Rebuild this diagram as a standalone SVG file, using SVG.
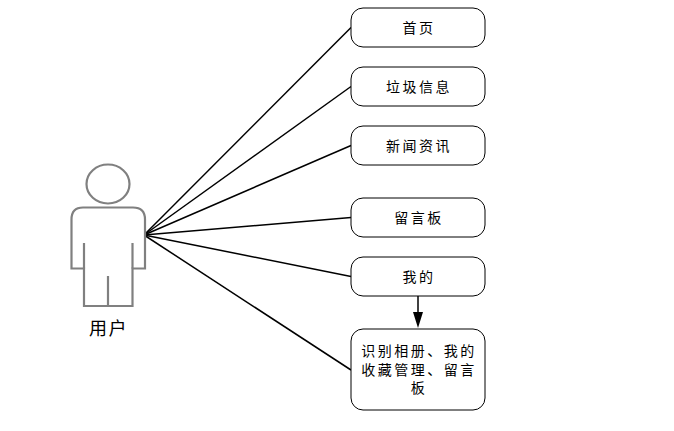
<svg xmlns="http://www.w3.org/2000/svg" width="674" height="431" viewBox="0 0 674 431">
<defs>
<style>
.box{fill:#fff;stroke:#000;stroke-width:1}
.t{font-family:"Liberation Sans","Noto Sans CJK SC",sans-serif;font-size:14px;letter-spacing:2.500px;text-anchor:middle;fill:#000}
.u{font-family:"Liberation Sans","Noto Sans CJK SC",sans-serif;font-size:18px;letter-spacing:1.500px;text-anchor:middle;fill:#000}
.c{stroke:#000;stroke-width:1.500;fill:none}
.actor{fill:#fff;stroke:#808080;stroke-width:2.200}
</style>
</defs>
<rect width="674" height="431" fill="#fff"/>
<g id="connectors">
<path class="c" d="M144 235L351 27.500"/>
<path class="c" d="M144 235L351 86.500"/>
<path class="c" d="M144 235L351 145.500"/>
<path class="c" d="M144 235L351 217.500"/>
<path class="c" d="M144 235L351 276.500"/>
<path class="c" d="M144 235L351 370"/>
<path class="c" d="M418 296V314" stroke-width="1"/>
<path d="M413 312H423L418 328Z" fill="#000"/>
</g>
<g id="actor">
<ellipse class="actor" cx="108" cy="184" rx="21.500" ry="19.500"/>
<path class="actor" d="M83 207.500H133Q145 207.500 145 219.500V268.500H132.500V306H84V268.500H71.500V219.500Q71.500 207.500 83 207.500Z"/>
<path class="actor" d="M84 243V268.500M132.500 243V268.500M108 276V306"/>
<text class="u" x="108.500" y="335">用户</text>
</g>
<g id="n1"><rect class="box" x="351" y="8" width="134" height="39" rx="12"/><text class="t" x="419" y="33">首页</text></g>
<g id="n2"><rect class="box" x="351" y="67" width="134" height="39" rx="12"/><text class="t" x="419" y="92">垃圾信息</text></g>
<g id="n3"><rect class="box" x="351" y="126" width="134" height="39" rx="12"/><text class="t" x="419" y="151">新闻资讯</text></g>
<g id="n4"><rect class="box" x="351" y="198" width="134" height="39" rx="12"/><text class="t" x="419" y="223">留言板</text></g>
<g id="n5"><rect class="box" x="351" y="257" width="134" height="39" rx="12"/><text class="t" x="419" y="282">我的</text></g>
<g id="n6"><rect class="box" x="351" y="329" width="134" height="81" rx="12"/>
<text class="t" x="419" y="356">识别相册、我的</text><text class="t" x="419" y="375">收藏管理、留言</text><text class="t" x="419" y="393">板</text></g>
</svg>
